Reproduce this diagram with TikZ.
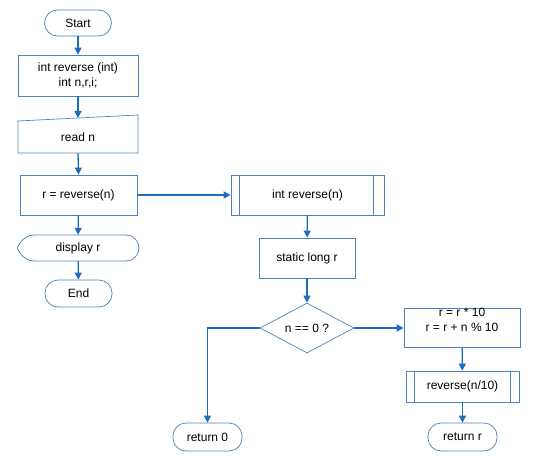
\documentclass[tikz,border=0pt]{standalone}
\usepackage{fontspec}
\setmainfont{Liberation Sans}
\usetikzlibrary{shapes.geometric,arrows.meta}

\definecolor{boxblue}{HTML}{4F82B8}
\definecolor{flowblue}{HTML}{1C6DC0}

\tikzset{
  box/.style={draw=boxblue,fill=white,line width=0.7pt},
  outline/.style={draw=boxblue,line width=0.7pt},
  flow/.style={draw=flowblue,line width=1.3pt,-{Triangle[length=7pt,width=7pt]}},
}

\begin{document}
\begin{tikzpicture}[x=1pt,y=-1pt,font=\fontsize{12}{15}\selectfont]

      \useasboundingbox (0,0) rectangle (540,473);

      \begin{scope}[every node/.style={align=center,inner sep=0pt}]
        \node[box,rounded corners=13pt,minimum width=67pt,minimum height=26pt] (start) at (78,23) {Start};
        \node[box,minimum width=120pt,minimum height=41pt] (decl) at (78,75.5) {int reverse (int)\\int n,r,i;};
        \node[minimum width=120pt,minimum height=32pt] (read) at (78,137) {read n};
        \node[box,minimum width=117pt,minimum height=40pt] (call) at (78.5,195) {r = reverse(n)};
        \node[minimum width=122pt,minimum height=26pt] (disp) at (78,248) {display r};
        \node[box,rounded corners=13pt,minimum width=67pt,minimum height=27pt] (stop) at (78.5,293.5) {End};
        \node[box,minimum width=153pt,minimum height=40pt] (func) at (307.5,195) {int reverse(n)};
        \node[box,minimum width=96pt,minimum height=40pt] (stat) at (307,258) {static long r};
        \node[box,diamond,aspect=1.88,minimum width=94pt,minimum height=50pt] (test) at (307,328) {n == 0 ?};
        \node[box,minimum width=116pt,minimum height=38pt,text depth=16pt] (upd) at (462,328) {r = r * 10\\r = r + n \% 10};
        \node[box,minimum width=113pt,minimum height=31pt] (rec) at (462.5,386.5) {reverse(n/10)};
        \node[box,rounded corners=13pt,minimum width=69pt,minimum height=28pt] (retr) at (462.5,437) {return r};
        \node[box,rounded corners=13pt,minimum width=69pt,minimum height=28pt] (ret0) at (207.5,437) {return 0};
      \end{scope}

      % manual input and display outlines
      \draw[outline] ([shift={(-60,16)}]read.center) -- ([shift={(-60,-16)}]read.center)
        -- ([shift={(60,-22)}]read.center) -- ([shift={(60,16)}]read.center) -- cycle;
      \draw[outline] ([shift={(-61,0)}]disp.center)
        .. controls ([shift={(-56,-9)}]disp.center) and ([shift={(-51,-13)}]disp.center) .. ([shift={(-44,-13)}]disp.center)
        -- ([shift={(48,-13)}]disp.center) arc[start angle=-90,end angle=90,radius=13]
        -- ([shift={(-44,13)}]disp.center)
        .. controls ([shift={(-51,13)}]disp.center) and ([shift={(-56,9)}]disp.center) .. ([shift={(-61,0)}]disp.center) -- cycle;
      \coordinate (readtop) at (78,118);

      % predefined process bars
      \draw[outline] ([xshift=9pt]func.north west) -- ([xshift=9pt]func.south west);
      \draw[outline] ([xshift=-11pt]func.north east) -- ([xshift=-11pt]func.south east);
      \draw[outline] ([xshift=9pt]rec.north west) -- ([xshift=9pt]rec.south west);
      \draw[outline] ([xshift=-9pt]rec.north east) -- ([xshift=-9pt]rec.south east);

      \begin{scope}[every edge/.style={flow}]
        \path (start) edge (decl);
        \path (decl) edge (readtop);
        \path (read.south) edge (call.north);
        \path (call) edge (disp);
        \path (disp) edge (stop);
        \path (call) edge (func);
        \path (func) edge (stat);
        \path (stat) edge (test);
        \path (test) edge (upd);
        \path (test.west) edge[to path={-| (\tikztotarget)}] (ret0.north);
        \path (upd) edge (rec);
        \path (rec) edge (retr);
      \end{scope}

    \end{tikzpicture}
\end{document}
